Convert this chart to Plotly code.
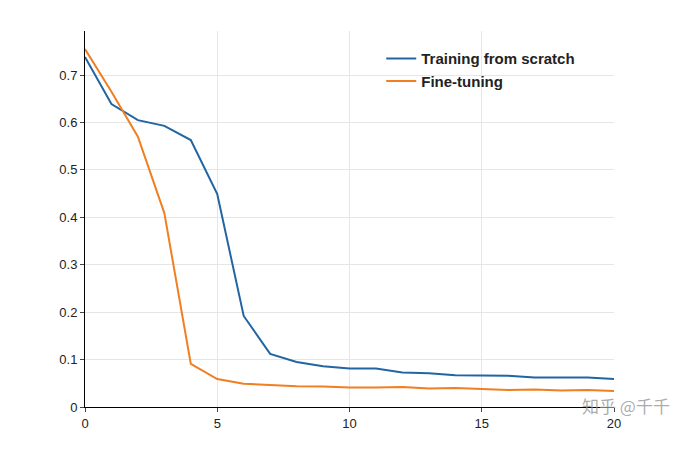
import plotly.graph_objects as go

x = list(range(21))
scratch = [0.738, 0.639, 0.605, 0.593, 0.563, 0.449, 0.192, 0.112, 0.095, 0.086, 0.081,
           0.081, 0.073, 0.071, 0.067, 0.066, 0.066, 0.062, 0.062, 0.062, 0.059]
finetune = [0.755, 0.665, 0.570, 0.409, 0.091, 0.059, 0.049, 0.046, 0.044, 0.043, 0.041,
            0.041, 0.042, 0.039, 0.040, 0.038, 0.036, 0.037, 0.035, 0.036, 0.034]

fig = go.Figure()
fig.add_trace(go.Scatter(x=x, y=scratch, mode="lines", name="Training from scratch",
                         line=dict(color="#2265a3", width=2)))
fig.add_trace(go.Scatter(x=x, y=finetune, mode="lines", name="Fine-tuning",
                         line=dict(color="#f07f21", width=2)))
fig.update_layout(
    width=687, height=449, plot_bgcolor="white", paper_bgcolor="white",
    margin=dict(l=77, r=81, t=23, b=50),
    font=dict(family="Liberation Sans, Arial", size=13, color="#222"),
    legend=dict(x=0.56, y=0.97, xanchor="left", yanchor="top",
                font=dict(size=15, family="Liberation Sans, Arial", weight="bold"),
                bgcolor="rgba(255,255,255,0)"),
    xaxis=dict(range=[0, 20], tickvals=[0, 5, 10, 15, 20], showgrid=True, gridcolor="#e6e6e6",
               showline=True, linecolor="black", ticks="outside", ticklen=4, zeroline=False),
    yaxis=dict(range=[0, 0.793], tickvals=[0, 0.1, 0.2, 0.3, 0.4, 0.5, 0.6, 0.7],
               showgrid=True, gridcolor="#e6e6e6", showline=True, linecolor="black",
               ticks="outside", ticklen=4, zeroline=False),
    annotations=[dict(text="知乎 @千千", x=1.11, y=-0.035, xref="paper", yref="paper",
                      xanchor="right", yanchor="bottom", showarrow=False,
                      font=dict(size=17, color="rgba(150,150,150,0.8)",
                                family="Noto Sans CJK SC"))]
)
fig.write_html("out.html")
